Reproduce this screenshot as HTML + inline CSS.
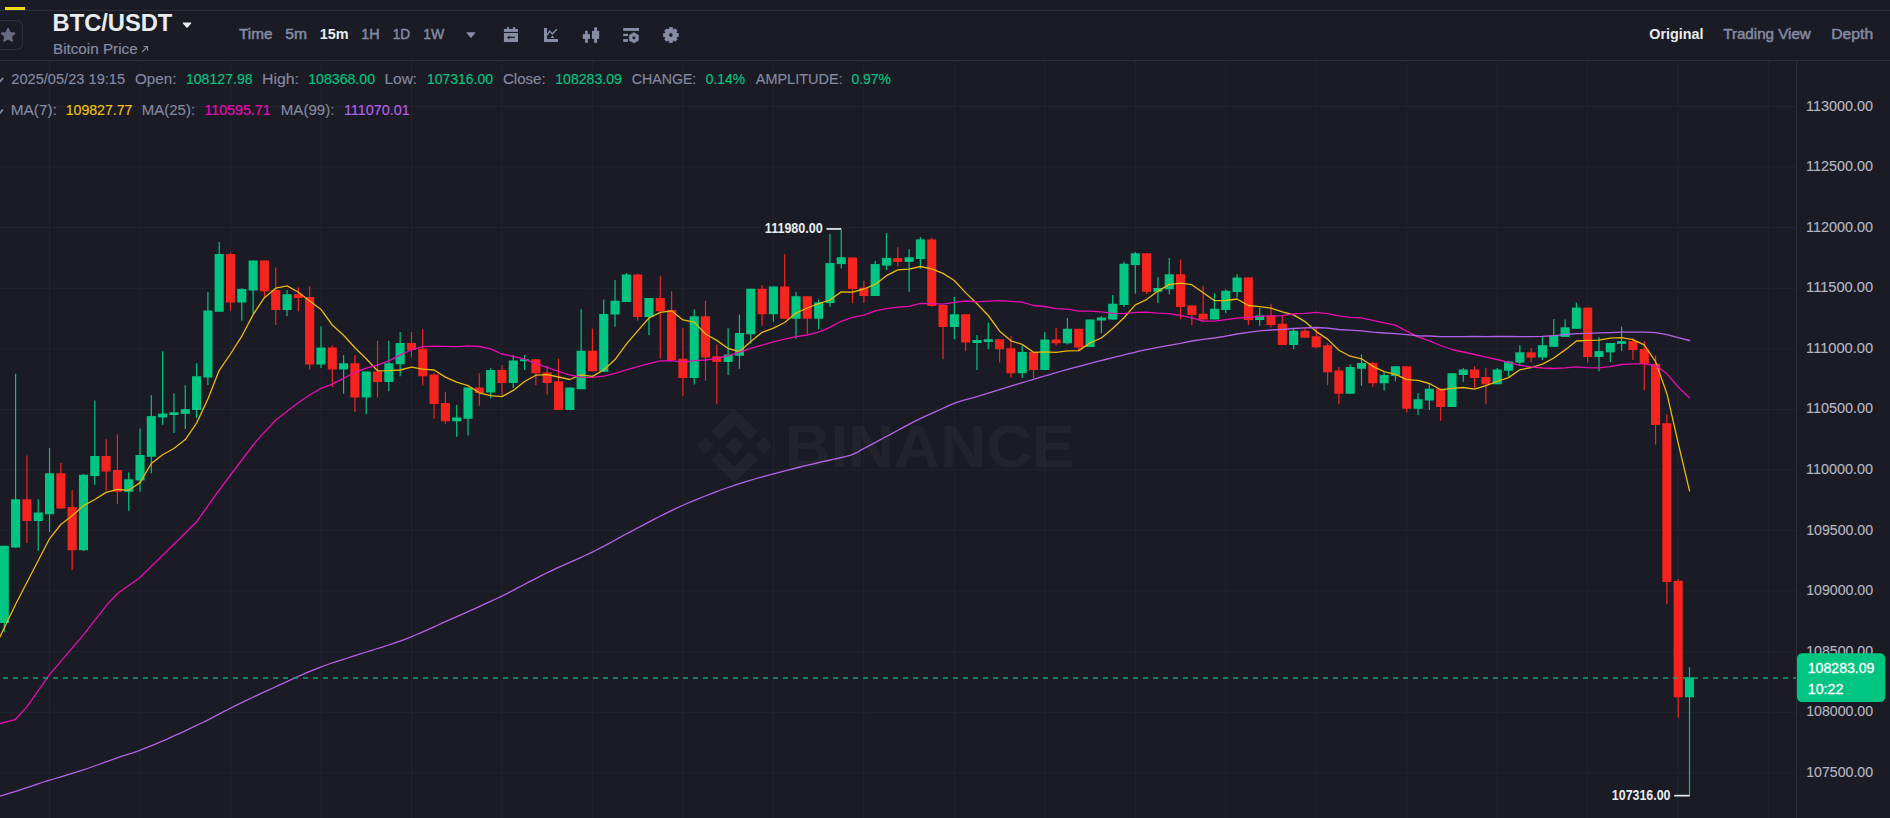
<!DOCTYPE html>
<html lang="en"><head><meta charset="utf-8"><title>BTC/USDT | Bitcoin Price</title>
<style>html,body{margin:0;padding:0;background:#1a1b24;overflow:hidden}body{width:1890px;height:818px;font-family:"Liberation Sans",Arial,sans-serif}</style>
</head><body>
<svg width="1890" height="818" viewBox="0 0 1890 818" font-family="Liberation Sans, Arial, sans-serif" style="display:block">
<rect width="1890" height="818" fill="#1a1b24"/>
<g id="grid" fill="#22242f">
<rect x="0" y="106.00" width="1796" height="1"/>
<rect x="0" y="166.57" width="1796" height="1"/>
<rect x="0" y="227.15" width="1796" height="1"/>
<rect x="0" y="287.73" width="1796" height="1"/>
<rect x="0" y="348.30" width="1796" height="1"/>
<rect x="0" y="408.88" width="1796" height="1"/>
<rect x="0" y="469.45" width="1796" height="1"/>
<rect x="0" y="530.03" width="1796" height="1"/>
<rect x="0" y="590.60" width="1796" height="1"/>
<rect x="0" y="651.18" width="1796" height="1"/>
<rect x="0" y="711.75" width="1796" height="1"/>
<rect x="0" y="772.33" width="1796" height="1"/>
<rect x="49.00" y="61" width="1" height="757"/>
<rect x="139.48" y="61" width="1" height="757"/>
<rect x="229.96" y="61" width="1" height="757"/>
<rect x="320.44" y="61" width="1" height="757"/>
<rect x="410.92" y="61" width="1" height="757"/>
<rect x="501.40" y="61" width="1" height="757"/>
<rect x="591.88" y="61" width="1" height="757"/>
<rect x="682.36" y="61" width="1" height="757"/>
<rect x="772.84" y="61" width="1" height="757"/>
<rect x="863.32" y="61" width="1" height="757"/>
<rect x="953.80" y="61" width="1" height="757"/>
<rect x="1044.28" y="61" width="1" height="757"/>
<rect x="1134.76" y="61" width="1" height="757"/>
<rect x="1225.24" y="61" width="1" height="757"/>
<rect x="1315.72" y="61" width="1" height="757"/>
<rect x="1406.20" y="61" width="1" height="757"/>
<rect x="1496.68" y="61" width="1" height="757"/>
<rect x="1587.16" y="61" width="1" height="757"/>
<rect x="1677.64" y="61" width="1" height="757"/>
<rect x="1768.12" y="61" width="1" height="757"/>
</g>
<rect x="1796" y="61" width="1" height="757" fill="#2b2e3a" shape-rendering="crispEdges"/>
<g id="watermark" fill="#ffffff" opacity="0.036">
<polygon points="734.50,436.86 743.44,445.80 734.50,454.74 725.56,445.80"/><polygon points="705.45,437.61 713.64,445.80 705.45,454.00 697.25,445.80"/><polygon points="763.55,437.61 771.75,445.80 763.55,454.00 755.36,445.80"/><polygon points="734.50,408.55 757.60,431.65 749.40,439.84 734.50,424.94 719.60,439.84 711.40,431.65"/><polygon points="734.50,483.05 757.60,459.95 749.40,451.76 734.50,466.66 719.60,451.76 711.40,459.95"/>
<text x="784.77" y="467.2" fill="#ffffff" font-size="60" font-weight="700" textLength="289.71" lengthAdjust="spacingAndGlyphs" >BINANCE</text>
</g>
<g id="candles">
<rect x="3.70" y="545.75" width="1.2" height="86.05" fill="#00c582"/>
<rect x="-0.25" y="545.75" width="9.1" height="77.25" fill="#00c582"/>
<rect x="15.01" y="373.75" width="1.2" height="174.25" fill="#00c582"/>
<rect x="11.06" y="499.25" width="9.1" height="48.25" fill="#00c582"/>
<rect x="26.32" y="455.50" width="1.2" height="87.50" fill="#f6241f"/>
<rect x="22.37" y="499.25" width="9.1" height="21.75" fill="#f6241f"/>
<rect x="37.63" y="499.25" width="1.2" height="51.50" fill="#00c582"/>
<rect x="33.68" y="512.50" width="9.1" height="8.50" fill="#00c582"/>
<rect x="48.94" y="448.00" width="1.2" height="84.00" fill="#00c582"/>
<rect x="44.99" y="473.25" width="9.1" height="41.00" fill="#00c582"/>
<rect x="60.25" y="463.00" width="1.2" height="45.50" fill="#f6241f"/>
<rect x="56.30" y="473.25" width="9.1" height="35.25" fill="#f6241f"/>
<rect x="71.56" y="490.00" width="1.2" height="80.00" fill="#f6241f"/>
<rect x="67.61" y="507.00" width="9.1" height="43.25" fill="#f6241f"/>
<rect x="82.87" y="474.00" width="1.2" height="77.00" fill="#00c582"/>
<rect x="78.92" y="474.75" width="9.1" height="75.50" fill="#00c582"/>
<rect x="94.18" y="400.50" width="1.2" height="84.50" fill="#00c582"/>
<rect x="90.23" y="456.00" width="9.1" height="20.00" fill="#00c582"/>
<rect x="105.49" y="439.25" width="1.2" height="51.25" fill="#f6241f"/>
<rect x="101.54" y="456.00" width="9.1" height="15.50" fill="#f6241f"/>
<rect x="116.80" y="434.50" width="1.2" height="69.75" fill="#f6241f"/>
<rect x="112.85" y="470.00" width="9.1" height="21.75" fill="#f6241f"/>
<rect x="128.11" y="472.50" width="1.2" height="38.25" fill="#00c582"/>
<rect x="124.16" y="479.25" width="9.1" height="12.50" fill="#00c582"/>
<rect x="139.42" y="428.60" width="1.2" height="63.15" fill="#00c582"/>
<rect x="135.47" y="455.00" width="9.1" height="25.50" fill="#00c582"/>
<rect x="150.73" y="395.00" width="1.2" height="78.25" fill="#00c582"/>
<rect x="146.78" y="416.10" width="9.1" height="40.65" fill="#00c582"/>
<rect x="162.04" y="351.25" width="1.2" height="73.65" fill="#00c582"/>
<rect x="158.09" y="413.60" width="9.1" height="3.80" fill="#00c582"/>
<rect x="173.35" y="393.25" width="1.2" height="39.75" fill="#00c582"/>
<rect x="169.40" y="412.25" width="9.1" height="2.75" fill="#00c582"/>
<rect x="184.66" y="385.25" width="1.2" height="43.75" fill="#00c582"/>
<rect x="180.71" y="409.10" width="9.1" height="4.80" fill="#00c582"/>
<rect x="195.97" y="363.25" width="1.2" height="54.85" fill="#00c582"/>
<rect x="192.02" y="376.25" width="9.1" height="33.75" fill="#00c582"/>
<rect x="207.28" y="292.00" width="1.2" height="93.00" fill="#00c582"/>
<rect x="203.33" y="310.50" width="9.1" height="67.00" fill="#00c582"/>
<rect x="218.59" y="242.00" width="1.2" height="69.75" fill="#00c582"/>
<rect x="214.64" y="254.00" width="9.1" height="57.75" fill="#00c582"/>
<rect x="229.90" y="252.50" width="1.2" height="58.25" fill="#f6241f"/>
<rect x="225.95" y="254.00" width="9.1" height="48.50" fill="#f6241f"/>
<rect x="241.21" y="288.00" width="1.2" height="32.75" fill="#00c582"/>
<rect x="237.26" y="289.00" width="9.1" height="13.50" fill="#00c582"/>
<rect x="252.52" y="260.50" width="1.2" height="53.25" fill="#00c582"/>
<rect x="248.57" y="260.50" width="9.1" height="30.00" fill="#00c582"/>
<rect x="263.83" y="260.50" width="1.2" height="36.50" fill="#f6241f"/>
<rect x="259.88" y="260.50" width="9.1" height="30.75" fill="#f6241f"/>
<rect x="275.14" y="267.50" width="1.2" height="57.50" fill="#f6241f"/>
<rect x="271.19" y="290.00" width="9.1" height="20.00" fill="#f6241f"/>
<rect x="286.45" y="290.00" width="1.2" height="26.25" fill="#00c582"/>
<rect x="282.50" y="294.25" width="9.1" height="15.75" fill="#00c582"/>
<rect x="297.76" y="287.50" width="1.2" height="23.75" fill="#f6241f"/>
<rect x="293.81" y="294.25" width="9.1" height="3.75" fill="#f6241f"/>
<rect x="309.07" y="286.25" width="1.2" height="83.25" fill="#f6241f"/>
<rect x="305.12" y="297.00" width="9.1" height="67.50" fill="#f6241f"/>
<rect x="320.38" y="326.25" width="1.2" height="41.75" fill="#00c582"/>
<rect x="316.43" y="347.50" width="9.1" height="17.00" fill="#00c582"/>
<rect x="331.69" y="345.50" width="1.2" height="41.50" fill="#f6241f"/>
<rect x="327.74" y="347.50" width="9.1" height="22.00" fill="#f6241f"/>
<rect x="343.00" y="355.00" width="1.2" height="38.75" fill="#00c582"/>
<rect x="339.05" y="363.25" width="9.1" height="6.25" fill="#00c582"/>
<rect x="354.31" y="355.00" width="1.2" height="57.00" fill="#f6241f"/>
<rect x="350.36" y="363.25" width="9.1" height="34.25" fill="#f6241f"/>
<rect x="365.62" y="371.50" width="1.2" height="42.75" fill="#00c582"/>
<rect x="361.67" y="371.50" width="9.1" height="26.00" fill="#00c582"/>
<rect x="376.93" y="340.75" width="1.2" height="56.75" fill="#f6241f"/>
<rect x="372.98" y="371.50" width="9.1" height="10.50" fill="#f6241f"/>
<rect x="388.24" y="340.75" width="1.2" height="50.50" fill="#00c582"/>
<rect x="384.29" y="363.25" width="9.1" height="18.75" fill="#00c582"/>
<rect x="399.55" y="332.00" width="1.2" height="44.25" fill="#00c582"/>
<rect x="395.60" y="343.00" width="9.1" height="21.25" fill="#00c582"/>
<rect x="410.86" y="332.00" width="1.2" height="25.50" fill="#f6241f"/>
<rect x="406.91" y="343.00" width="9.1" height="7.00" fill="#f6241f"/>
<rect x="422.17" y="329.25" width="1.2" height="56.25" fill="#f6241f"/>
<rect x="418.22" y="348.75" width="9.1" height="27.50" fill="#f6241f"/>
<rect x="433.48" y="373.00" width="1.2" height="45.60" fill="#f6241f"/>
<rect x="429.53" y="374.50" width="9.1" height="29.50" fill="#f6241f"/>
<rect x="444.79" y="391.75" width="1.2" height="32.25" fill="#f6241f"/>
<rect x="440.84" y="403.00" width="9.1" height="18.25" fill="#f6241f"/>
<rect x="456.10" y="405.00" width="1.2" height="31.90" fill="#00c582"/>
<rect x="452.15" y="417.40" width="9.1" height="3.85" fill="#00c582"/>
<rect x="467.41" y="387.50" width="1.2" height="48.00" fill="#00c582"/>
<rect x="463.46" y="387.50" width="9.1" height="31.25" fill="#00c582"/>
<rect x="478.72" y="373.25" width="1.2" height="32.50" fill="#f6241f"/>
<rect x="474.77" y="387.50" width="9.1" height="5.50" fill="#f6241f"/>
<rect x="490.03" y="368.25" width="1.2" height="30.00" fill="#00c582"/>
<rect x="486.08" y="370.00" width="9.1" height="22.50" fill="#00c582"/>
<rect x="501.34" y="365.00" width="1.2" height="31.25" fill="#f6241f"/>
<rect x="497.39" y="370.00" width="9.1" height="13.00" fill="#f6241f"/>
<rect x="512.65" y="355.00" width="1.2" height="33.00" fill="#00c582"/>
<rect x="508.70" y="360.50" width="9.1" height="22.50" fill="#00c582"/>
<rect x="523.96" y="355.00" width="1.2" height="15.00" fill="#00c582"/>
<rect x="520.01" y="359.25" width="9.1" height="2.00" fill="#00c582"/>
<rect x="535.27" y="359.25" width="1.2" height="25.75" fill="#f6241f"/>
<rect x="531.32" y="359.25" width="9.1" height="14.00" fill="#f6241f"/>
<rect x="546.58" y="365.75" width="1.2" height="28.75" fill="#f6241f"/>
<rect x="542.63" y="372.50" width="9.1" height="10.50" fill="#f6241f"/>
<rect x="557.89" y="358.75" width="1.2" height="51.25" fill="#f6241f"/>
<rect x="553.94" y="381.25" width="9.1" height="28.75" fill="#f6241f"/>
<rect x="569.20" y="387.50" width="1.2" height="22.50" fill="#00c582"/>
<rect x="565.25" y="387.50" width="9.1" height="22.50" fill="#00c582"/>
<rect x="580.51" y="309.25" width="1.2" height="80.00" fill="#00c582"/>
<rect x="576.56" y="350.75" width="9.1" height="38.50" fill="#00c582"/>
<rect x="591.82" y="328.75" width="1.2" height="42.50" fill="#f6241f"/>
<rect x="587.87" y="350.75" width="9.1" height="20.50" fill="#f6241f"/>
<rect x="603.13" y="299.50" width="1.2" height="72.25" fill="#00c582"/>
<rect x="599.18" y="314.00" width="9.1" height="57.75" fill="#00c582"/>
<rect x="614.44" y="280.00" width="1.2" height="46.75" fill="#00c582"/>
<rect x="610.49" y="300.75" width="9.1" height="13.75" fill="#00c582"/>
<rect x="625.75" y="273.00" width="1.2" height="29.00" fill="#00c582"/>
<rect x="621.80" y="274.50" width="9.1" height="27.50" fill="#00c582"/>
<rect x="637.06" y="273.50" width="1.2" height="47.25" fill="#f6241f"/>
<rect x="633.11" y="274.50" width="9.1" height="42.50" fill="#f6241f"/>
<rect x="648.37" y="298.00" width="1.2" height="37.00" fill="#00c582"/>
<rect x="644.42" y="298.00" width="9.1" height="19.00" fill="#00c582"/>
<rect x="659.68" y="276.25" width="1.2" height="82.50" fill="#f6241f"/>
<rect x="655.73" y="298.00" width="9.1" height="13.25" fill="#f6241f"/>
<rect x="670.99" y="291.25" width="1.2" height="68.75" fill="#f6241f"/>
<rect x="667.04" y="310.00" width="9.1" height="50.00" fill="#f6241f"/>
<rect x="682.30" y="328.00" width="1.2" height="67.75" fill="#f6241f"/>
<rect x="678.35" y="358.75" width="9.1" height="19.25" fill="#f6241f"/>
<rect x="693.61" y="309.50" width="1.2" height="75.00" fill="#00c582"/>
<rect x="689.66" y="316.25" width="9.1" height="61.75" fill="#00c582"/>
<rect x="704.92" y="300.75" width="1.2" height="80.00" fill="#f6241f"/>
<rect x="700.97" y="316.25" width="9.1" height="41.25" fill="#f6241f"/>
<rect x="716.23" y="344.50" width="1.2" height="59.25" fill="#f6241f"/>
<rect x="712.28" y="356.25" width="9.1" height="5.75" fill="#f6241f"/>
<rect x="727.54" y="328.25" width="1.2" height="46.75" fill="#00c582"/>
<rect x="723.59" y="354.50" width="9.1" height="7.50" fill="#00c582"/>
<rect x="738.85" y="314.50" width="1.2" height="54.25" fill="#00c582"/>
<rect x="734.90" y="333.00" width="9.1" height="22.75" fill="#00c582"/>
<rect x="750.16" y="288.75" width="1.2" height="55.00" fill="#00c582"/>
<rect x="746.21" y="288.75" width="9.1" height="45.50" fill="#00c582"/>
<rect x="761.47" y="285.00" width="1.2" height="40.75" fill="#f6241f"/>
<rect x="757.52" y="288.75" width="9.1" height="25.50" fill="#f6241f"/>
<rect x="772.78" y="286.50" width="1.2" height="35.25" fill="#00c582"/>
<rect x="768.83" y="286.50" width="9.1" height="27.75" fill="#00c582"/>
<rect x="784.09" y="254.10" width="1.2" height="64.65" fill="#f6241f"/>
<rect x="780.14" y="286.50" width="9.1" height="32.25" fill="#f6241f"/>
<rect x="795.40" y="292.00" width="1.2" height="46.75" fill="#00c582"/>
<rect x="791.45" y="296.25" width="9.1" height="22.50" fill="#00c582"/>
<rect x="806.71" y="296.25" width="1.2" height="37.50" fill="#f6241f"/>
<rect x="802.76" y="296.25" width="9.1" height="22.50" fill="#f6241f"/>
<rect x="818.02" y="299.50" width="1.2" height="29.75" fill="#00c582"/>
<rect x="814.07" y="302.40" width="9.1" height="16.35" fill="#00c582"/>
<rect x="829.33" y="234.00" width="1.2" height="72.90" fill="#00c582"/>
<rect x="825.38" y="263.10" width="9.1" height="40.00" fill="#00c582"/>
<rect x="840.64" y="229.75" width="1.2" height="38.75" fill="#00c582"/>
<rect x="836.69" y="257.25" width="9.1" height="6.85" fill="#00c582"/>
<rect x="851.95" y="257.50" width="1.2" height="45.60" fill="#f6241f"/>
<rect x="848.00" y="257.50" width="9.1" height="31.50" fill="#f6241f"/>
<rect x="863.26" y="280.60" width="1.2" height="22.40" fill="#f6241f"/>
<rect x="859.31" y="287.75" width="9.1" height="8.25" fill="#f6241f"/>
<rect x="874.57" y="261.00" width="1.2" height="35.00" fill="#00c582"/>
<rect x="870.62" y="264.10" width="9.1" height="31.90" fill="#00c582"/>
<rect x="885.88" y="233.10" width="1.2" height="36.90" fill="#00c582"/>
<rect x="881.93" y="257.90" width="9.1" height="7.70" fill="#00c582"/>
<rect x="897.19" y="247.25" width="1.2" height="19.35" fill="#f6241f"/>
<rect x="893.24" y="258.10" width="9.1" height="3.80" fill="#f6241f"/>
<rect x="908.50" y="249.10" width="1.2" height="42.80" fill="#00c582"/>
<rect x="904.55" y="257.25" width="9.1" height="4.65" fill="#00c582"/>
<rect x="919.81" y="237.10" width="1.2" height="31.65" fill="#00c582"/>
<rect x="915.86" y="239.40" width="9.1" height="19.60" fill="#00c582"/>
<rect x="931.12" y="237.75" width="1.2" height="69.15" fill="#f6241f"/>
<rect x="927.17" y="239.40" width="9.1" height="66.60" fill="#f6241f"/>
<rect x="942.43" y="305.00" width="1.2" height="54.25" fill="#f6241f"/>
<rect x="938.48" y="305.00" width="9.1" height="22.00" fill="#f6241f"/>
<rect x="953.74" y="296.75" width="1.2" height="42.50" fill="#00c582"/>
<rect x="949.79" y="314.25" width="9.1" height="12.75" fill="#00c582"/>
<rect x="965.05" y="314.25" width="1.2" height="37.00" fill="#f6241f"/>
<rect x="961.10" y="314.25" width="9.1" height="28.25" fill="#f6241f"/>
<rect x="976.36" y="335.00" width="1.2" height="35.00" fill="#00c582"/>
<rect x="972.41" y="340.00" width="9.1" height="3.00" fill="#00c582"/>
<rect x="987.67" y="322.50" width="1.2" height="26.75" fill="#00c582"/>
<rect x="983.72" y="339.25" width="9.1" height="2.75" fill="#00c582"/>
<rect x="998.98" y="339.25" width="1.2" height="23.25" fill="#f6241f"/>
<rect x="995.03" y="339.25" width="9.1" height="10.00" fill="#f6241f"/>
<rect x="1010.29" y="336.25" width="1.2" height="41.25" fill="#f6241f"/>
<rect x="1006.34" y="348.25" width="9.1" height="25.00" fill="#f6241f"/>
<rect x="1021.60" y="345.50" width="1.2" height="32.50" fill="#00c582"/>
<rect x="1017.65" y="352.00" width="9.1" height="21.25" fill="#00c582"/>
<rect x="1032.91" y="352.00" width="1.2" height="26.00" fill="#f6241f"/>
<rect x="1028.96" y="352.00" width="9.1" height="18.00" fill="#f6241f"/>
<rect x="1044.22" y="332.00" width="1.2" height="38.00" fill="#00c582"/>
<rect x="1040.27" y="339.50" width="9.1" height="30.50" fill="#00c582"/>
<rect x="1055.53" y="328.00" width="1.2" height="17.75" fill="#f6241f"/>
<rect x="1051.58" y="339.50" width="9.1" height="3.75" fill="#f6241f"/>
<rect x="1066.84" y="318.00" width="1.2" height="26.50" fill="#00c582"/>
<rect x="1062.89" y="328.75" width="9.1" height="14.50" fill="#00c582"/>
<rect x="1078.15" y="328.75" width="1.2" height="22.50" fill="#f6241f"/>
<rect x="1074.20" y="328.75" width="9.1" height="18.75" fill="#f6241f"/>
<rect x="1089.46" y="319.50" width="1.2" height="27.50" fill="#00c582"/>
<rect x="1085.51" y="319.50" width="9.1" height="27.50" fill="#00c582"/>
<rect x="1100.77" y="316.25" width="1.2" height="17.00" fill="#00c582"/>
<rect x="1096.82" y="317.50" width="9.1" height="3.00" fill="#00c582"/>
<rect x="1112.08" y="295.00" width="1.2" height="24.50" fill="#00c582"/>
<rect x="1108.13" y="303.75" width="9.1" height="15.75" fill="#00c582"/>
<rect x="1123.39" y="261.75" width="1.2" height="45.25" fill="#00c582"/>
<rect x="1119.44" y="263.75" width="9.1" height="41.25" fill="#00c582"/>
<rect x="1134.70" y="252.00" width="1.2" height="41.75" fill="#00c582"/>
<rect x="1130.75" y="253.25" width="9.1" height="11.75" fill="#00c582"/>
<rect x="1146.01" y="253.25" width="1.2" height="40.50" fill="#f6241f"/>
<rect x="1142.06" y="253.25" width="9.1" height="38.50" fill="#f6241f"/>
<rect x="1157.32" y="277.00" width="1.2" height="26.00" fill="#00c582"/>
<rect x="1153.37" y="288.00" width="9.1" height="3.75" fill="#00c582"/>
<rect x="1168.63" y="258.00" width="1.2" height="36.25" fill="#00c582"/>
<rect x="1164.68" y="274.25" width="9.1" height="15.00" fill="#00c582"/>
<rect x="1179.94" y="259.50" width="1.2" height="59.75" fill="#f6241f"/>
<rect x="1175.99" y="274.25" width="9.1" height="32.75" fill="#f6241f"/>
<rect x="1191.25" y="305.50" width="1.2" height="19.50" fill="#f6241f"/>
<rect x="1187.30" y="305.50" width="9.1" height="9.50" fill="#f6241f"/>
<rect x="1202.56" y="285.75" width="1.2" height="33.75" fill="#f6241f"/>
<rect x="1198.61" y="313.75" width="9.1" height="5.75" fill="#f6241f"/>
<rect x="1213.87" y="293.25" width="1.2" height="26.25" fill="#00c582"/>
<rect x="1209.92" y="308.75" width="9.1" height="10.75" fill="#00c582"/>
<rect x="1225.18" y="289.50" width="1.2" height="23.50" fill="#00c582"/>
<rect x="1221.23" y="290.75" width="9.1" height="19.25" fill="#00c582"/>
<rect x="1236.49" y="274.25" width="1.2" height="23.25" fill="#00c582"/>
<rect x="1232.54" y="277.50" width="9.1" height="14.50" fill="#00c582"/>
<rect x="1247.80" y="277.50" width="1.2" height="47.50" fill="#f6241f"/>
<rect x="1243.85" y="277.50" width="9.1" height="42.50" fill="#f6241f"/>
<rect x="1259.11" y="307.50" width="1.2" height="18.25" fill="#00c582"/>
<rect x="1255.16" y="315.50" width="9.1" height="4.50" fill="#00c582"/>
<rect x="1270.42" y="303.75" width="1.2" height="23.75" fill="#f6241f"/>
<rect x="1266.47" y="315.50" width="9.1" height="9.50" fill="#f6241f"/>
<rect x="1281.73" y="315.00" width="1.2" height="30.00" fill="#f6241f"/>
<rect x="1277.78" y="323.75" width="9.1" height="21.25" fill="#f6241f"/>
<rect x="1293.04" y="328.75" width="1.2" height="20.50" fill="#00c582"/>
<rect x="1289.09" y="330.75" width="9.1" height="14.25" fill="#00c582"/>
<rect x="1304.35" y="328.00" width="1.2" height="9.75" fill="#f6241f"/>
<rect x="1300.40" y="330.75" width="9.1" height="7.00" fill="#f6241f"/>
<rect x="1315.66" y="328.00" width="1.2" height="20.25" fill="#f6241f"/>
<rect x="1311.71" y="336.25" width="9.1" height="11.00" fill="#f6241f"/>
<rect x="1326.97" y="343.25" width="1.2" height="41.75" fill="#f6241f"/>
<rect x="1323.02" y="345.25" width="9.1" height="27.00" fill="#f6241f"/>
<rect x="1338.28" y="367.00" width="1.2" height="37.25" fill="#f6241f"/>
<rect x="1334.33" y="370.50" width="9.1" height="23.25" fill="#f6241f"/>
<rect x="1349.59" y="364.50" width="1.2" height="29.25" fill="#00c582"/>
<rect x="1345.64" y="367.00" width="9.1" height="26.75" fill="#00c582"/>
<rect x="1360.90" y="354.50" width="1.2" height="31.25" fill="#00c582"/>
<rect x="1356.95" y="363.00" width="9.1" height="5.75" fill="#00c582"/>
<rect x="1372.21" y="361.75" width="1.2" height="25.25" fill="#f6241f"/>
<rect x="1368.26" y="363.00" width="9.1" height="20.25" fill="#f6241f"/>
<rect x="1383.52" y="372.50" width="1.2" height="18.00" fill="#00c582"/>
<rect x="1379.57" y="375.00" width="9.1" height="8.25" fill="#00c582"/>
<rect x="1394.83" y="366.25" width="1.2" height="15.00" fill="#00c582"/>
<rect x="1390.88" y="366.25" width="9.1" height="9.50" fill="#00c582"/>
<rect x="1406.14" y="366.25" width="1.2" height="46.25" fill="#f6241f"/>
<rect x="1402.19" y="366.25" width="9.1" height="42.50" fill="#f6241f"/>
<rect x="1417.45" y="393.00" width="1.2" height="22.00" fill="#00c582"/>
<rect x="1413.50" y="399.25" width="9.1" height="9.50" fill="#00c582"/>
<rect x="1428.76" y="384.25" width="1.2" height="25.75" fill="#00c582"/>
<rect x="1424.81" y="388.75" width="9.1" height="11.75" fill="#00c582"/>
<rect x="1440.07" y="388.75" width="1.2" height="32.00" fill="#f6241f"/>
<rect x="1436.12" y="388.75" width="9.1" height="18.25" fill="#f6241f"/>
<rect x="1451.38" y="373.25" width="1.2" height="33.75" fill="#00c582"/>
<rect x="1447.43" y="373.25" width="9.1" height="33.75" fill="#00c582"/>
<rect x="1462.69" y="368.00" width="1.2" height="13.75" fill="#00c582"/>
<rect x="1458.74" y="369.50" width="9.1" height="5.50" fill="#00c582"/>
<rect x="1474.00" y="366.25" width="1.2" height="22.00" fill="#f6241f"/>
<rect x="1470.05" y="369.50" width="9.1" height="8.50" fill="#f6241f"/>
<rect x="1485.31" y="368.25" width="1.2" height="36.00" fill="#f6241f"/>
<rect x="1481.36" y="377.00" width="9.1" height="7.25" fill="#f6241f"/>
<rect x="1496.62" y="368.00" width="1.2" height="16.25" fill="#00c582"/>
<rect x="1492.67" y="369.50" width="9.1" height="14.75" fill="#00c582"/>
<rect x="1507.93" y="360.75" width="1.2" height="15.75" fill="#00c582"/>
<rect x="1503.98" y="361.50" width="9.1" height="9.20" fill="#00c582"/>
<rect x="1519.24" y="345.20" width="1.2" height="19.70" fill="#00c582"/>
<rect x="1515.29" y="352.30" width="9.1" height="10.30" fill="#00c582"/>
<rect x="1530.55" y="348.20" width="1.2" height="14.00" fill="#f6241f"/>
<rect x="1526.60" y="352.30" width="9.1" height="5.30" fill="#f6241f"/>
<rect x="1541.86" y="337.00" width="1.2" height="23.00" fill="#00c582"/>
<rect x="1537.91" y="345.20" width="9.1" height="12.30" fill="#00c582"/>
<rect x="1553.17" y="319.10" width="1.2" height="27.70" fill="#00c582"/>
<rect x="1549.22" y="335.80" width="9.1" height="11.00" fill="#00c582"/>
<rect x="1564.48" y="319.40" width="1.2" height="17.60" fill="#00c582"/>
<rect x="1560.53" y="327.30" width="9.1" height="9.70" fill="#00c582"/>
<rect x="1575.79" y="302.50" width="1.2" height="26.25" fill="#00c582"/>
<rect x="1571.84" y="307.60" width="9.1" height="21.15" fill="#00c582"/>
<rect x="1587.10" y="307.60" width="1.2" height="54.90" fill="#f6241f"/>
<rect x="1583.15" y="307.60" width="9.1" height="49.40" fill="#f6241f"/>
<rect x="1598.41" y="337.00" width="1.2" height="34.25" fill="#00c582"/>
<rect x="1594.46" y="351.10" width="9.1" height="5.90" fill="#00c582"/>
<rect x="1609.72" y="343.00" width="1.2" height="19.00" fill="#00c582"/>
<rect x="1605.77" y="343.00" width="9.1" height="9.30" fill="#00c582"/>
<rect x="1621.03" y="326.60" width="1.2" height="24.40" fill="#00c582"/>
<rect x="1617.08" y="341.10" width="9.1" height="2.80" fill="#00c582"/>
<rect x="1632.34" y="338.00" width="1.2" height="22.00" fill="#f6241f"/>
<rect x="1628.39" y="341.10" width="9.1" height="9.00" fill="#f6241f"/>
<rect x="1643.65" y="341.25" width="1.2" height="48.75" fill="#f6241f"/>
<rect x="1639.70" y="349.00" width="9.1" height="14.75" fill="#f6241f"/>
<rect x="1654.96" y="355.25" width="1.2" height="89.25" fill="#f6241f"/>
<rect x="1651.01" y="363.90" width="9.1" height="61.10" fill="#f6241f"/>
<rect x="1666.27" y="414.25" width="1.2" height="189.95" fill="#f6241f"/>
<rect x="1662.32" y="423.25" width="9.1" height="158.75" fill="#f6241f"/>
<rect x="1677.58" y="579.00" width="1.2" height="138.80" fill="#f6241f"/>
<rect x="1673.63" y="580.80" width="9.1" height="116.50" fill="#f6241f"/>
<rect x="1688.89" y="667.30" width="1.2" height="127.70" fill="#00c582"/>
<rect x="1684.94" y="677.40" width="9.1" height="19.90" fill="#00c582"/>
</g>
<g id="ma">
<polyline points="-3.0,643.0 0.0,636.8 15.5,604.5 49.5,538.8 60.8,524.5 72.2,515.8 83.5,505.6 94.8,499.5 106.1,492.4 117.4,489.4 128.7,490.3 140.0,482.6 151.3,463.5 162.6,454.7 173.9,448.5 185.3,439.6 196.6,423.1 207.9,399.0 219.2,370.3 230.5,354.0 241.8,336.2 253.1,314.6 264.4,297.7 275.7,288.2 287.1,285.9 298.4,292.2 309.7,301.1 321.0,309.4 332.3,325.0 343.6,335.3 354.9,347.8 366.2,358.8 377.5,370.8 388.8,370.6 400.1,370.0 411.5,367.2 422.8,369.1 434.1,370.0 445.4,377.1 456.7,382.2 468.0,385.6 479.3,392.8 490.6,395.6 501.9,396.6 513.2,390.4 524.6,381.5 535.9,375.2 547.2,374.6 558.5,377.0 569.8,379.5 581.1,374.9 592.4,376.4 603.7,370.0 615.0,359.6 626.4,344.1 637.7,330.8 649.0,318.0 660.3,312.4 671.6,310.8 682.9,319.9 694.2,322.1 705.5,334.0 716.8,340.4 728.1,348.5 739.5,351.6 750.8,341.4 762.1,332.3 773.4,328.1 784.7,322.5 796.0,313.1 807.3,308.0 818.6,303.7 829.9,300.0 841.2,291.9 852.6,292.2 863.9,289.0 875.2,284.4 886.5,275.7 897.8,269.9 909.1,269.1 920.4,266.5 931.7,268.9 943.0,273.4 954.3,280.5 965.6,292.6 977.0,303.8 988.3,315.5 999.6,331.2 1010.9,340.8 1022.2,344.4 1033.5,352.3 1044.8,351.9 1056.1,352.4 1067.4,350.9 1078.8,350.6 1090.1,342.9 1101.4,338.0 1112.7,328.5 1124.0,317.7 1135.3,304.9 1146.6,299.6 1157.9,291.1 1169.2,284.6 1180.5,283.1 1191.8,284.7 1203.2,292.7 1214.5,300.6 1225.8,300.5 1237.1,299.0 1248.4,305.5 1259.7,306.7 1271.0,308.1 1282.3,311.8 1293.6,314.9 1305.0,321.6 1316.3,331.6 1327.6,339.1 1338.9,350.2 1350.2,356.2 1361.5,358.8 1372.8,366.3 1384.1,371.6 1395.4,374.4 1406.7,379.6 1418.0,380.4 1429.4,383.5 1440.7,389.8 1452.0,388.3 1463.3,387.5 1474.6,389.2 1485.9,385.7 1497.2,381.5 1508.5,377.6 1519.8,369.8 1531.2,367.5 1542.5,364.1 1553.8,358.0 1565.1,349.9 1576.4,341.0 1587.7,340.4 1599.0,340.2 1610.3,338.1 1621.6,337.6 1632.9,339.6 1644.2,344.8 1655.6,361.6 1666.9,393.7 1678.2,443.2 1689.5,490.9" fill="none" stroke="#ecb90a" stroke-width="1.3" stroke-linejoin="round" stroke-linecap="round"/>
<polyline points="-3.0,724.0 0.0,723.5 15.1,719.7 27.0,706.6 49.5,674.6 83.0,635.3 107.5,604.2 117.2,593.8 140.0,577.5 162.5,555.5 196.5,521.8 219.2,490.0 253.2,445.0 262.5,434.2 275.8,420.0 298.5,402.5 309.7,395.0 321.0,388.4 332.3,384.2 343.6,378.4 354.9,372.3 366.2,368.2 377.5,365.2 388.8,360.9 400.1,354.9 411.5,349.8 422.8,346.6 434.1,346.1 445.4,346.4 456.7,346.6 468.0,345.8 479.3,346.5 490.6,348.8 501.9,354.0 513.2,356.3 524.6,359.1 535.9,363.6 547.2,367.3 558.5,371.3 569.8,375.0 581.1,377.1 592.4,377.4 603.7,376.1 615.0,373.3 626.4,369.8 637.7,366.6 649.0,363.6 660.3,360.8 671.6,360.7 682.9,362.1 694.2,360.7 705.5,360.0 716.8,358.3 728.1,355.6 739.5,352.2 750.8,348.3 762.1,345.1 773.4,341.8 784.7,339.2 796.0,336.6 807.3,335.0 818.6,332.2 829.9,327.4 841.2,321.3 852.6,317.4 863.9,315.2 875.2,310.9 886.5,308.6 897.8,307.1 909.1,306.4 920.4,303.3 931.7,303.6 943.0,304.2 954.3,302.4 965.6,301.0 977.0,301.9 988.3,301.2 999.6,300.7 1010.9,301.4 1022.2,302.2 1033.5,305.5 1044.8,306.5 1056.1,308.7 1067.4,309.1 1078.8,311.2 1090.1,311.2 1101.4,311.8 1112.7,313.4 1124.0,313.7 1135.3,312.3 1146.6,312.1 1157.9,313.1 1169.2,313.7 1180.5,315.5 1191.8,317.8 1203.2,321.0 1214.5,321.1 1225.8,319.7 1237.1,318.2 1248.4,317.3 1259.7,316.3 1271.0,315.8 1282.3,315.6 1293.6,313.9 1305.0,313.3 1316.3,312.4 1327.6,313.7 1338.9,315.8 1350.2,317.3 1361.5,317.9 1372.8,320.4 1384.1,322.8 1395.4,325.2 1406.7,331.1 1418.0,336.9 1429.4,340.8 1440.7,345.5 1452.0,349.5 1463.3,352.0 1474.6,354.5 1485.9,357.1 1497.2,359.5 1508.5,362.4 1519.8,365.4 1531.2,366.9 1542.5,368.0 1553.8,368.5 1565.1,367.8 1576.4,366.8 1587.7,367.6 1599.0,367.8 1610.3,366.6 1621.6,364.5 1632.9,363.8 1644.2,363.8 1655.6,365.5 1666.9,373.8 1678.2,387.0 1689.5,397.8" fill="none" stroke="#e80cb0" stroke-width="1.3" stroke-linejoin="round" stroke-linecap="round"/>
<polyline points="-3.0,797.0 2.7,795.4 8.3,793.7 14.0,791.9 19.6,790.1 25.3,788.2 30.9,786.3 36.6,784.4 42.2,782.5 47.9,780.7 53.6,779.0 59.2,777.3 64.9,775.6 70.5,773.9 76.2,772.2 81.8,770.4 87.5,768.5 93.1,766.5 98.8,764.5 104.4,762.4 110.1,760.3 115.8,758.3 121.4,756.4 127.1,754.6 132.7,752.8 138.4,750.8 144.0,748.7 149.7,746.4 155.3,744.1 161.0,741.7 166.7,739.3 172.3,736.7 178.0,734.2 183.6,731.6 189.3,728.9 194.9,726.2 200.6,723.5 206.2,720.8 211.9,717.9 217.5,714.9 223.2,711.9 228.9,709.0 234.5,706.2 240.2,703.4 245.8,700.7 251.5,698.0 257.1,695.3 262.8,692.7 268.4,690.1 274.1,687.5 279.7,684.9 285.4,682.3 291.1,679.7 296.7,677.1 302.4,674.6 308.0,672.2 313.7,669.8 319.3,667.6 325.0,665.5 330.6,663.5 336.3,661.6 342.0,659.8 347.6,658.0 353.3,656.2 358.9,654.4 364.6,652.5 370.2,650.8 375.9,649.0 381.5,647.3 387.2,645.5 392.8,643.7 398.5,641.7 404.2,639.6 409.8,637.4 415.5,635.0 421.1,632.6 426.8,630.1 432.4,627.6 438.1,625.0 443.7,622.4 449.4,619.9 455.1,617.3 460.7,614.8 466.4,612.3 472.0,609.8 477.7,607.3 483.3,604.7 489.0,602.1 494.6,599.5 500.3,596.8 505.9,594.1 511.6,591.2 517.3,588.2 522.9,585.2 528.6,582.2 534.2,579.3 539.9,576.3 545.5,573.5 551.2,570.8 556.8,568.2 562.5,565.7 568.2,563.1 573.8,560.6 579.5,558.1 585.1,555.5 590.8,552.8 596.4,550.0 602.1,547.1 607.7,544.1 613.4,541.0 619.0,537.9 624.7,534.8 630.4,531.8 636.0,528.8 641.7,525.9 647.3,522.9 653.0,519.9 658.6,517.0 664.3,514.1 669.9,511.3 675.6,508.6 681.3,506.0 686.9,503.5 692.6,501.1 698.2,498.8 703.9,496.5 709.5,494.3 715.2,492.1 720.8,490.0 726.5,488.0 732.1,486.1 737.8,484.2 743.5,482.4 749.1,480.7 754.8,479.0 760.4,477.4 766.1,475.8 771.7,474.3 777.4,472.8 783.0,471.3 788.7,469.9 794.4,468.5 800.0,467.0 805.7,465.7 811.3,464.3 817.0,463.0 822.6,461.7 828.3,460.5 833.9,459.2 839.6,458.0 845.2,456.7 850.9,455.2 856.6,452.7 862.2,449.4 867.9,446.4 873.5,443.4 879.2,440.4 884.8,437.3 890.5,434.3 896.1,431.2 901.8,428.1 907.5,425.1 913.1,422.1 918.8,419.4 924.4,416.7 930.1,414.2 935.7,411.6 941.4,409.0 947.0,406.3 952.7,403.8 958.3,401.8 964.0,400.2 969.7,398.7 975.3,397.1 981.0,395.4 986.6,393.7 992.3,391.9 997.9,390.1 1003.6,388.3 1009.2,386.6 1014.9,384.9 1020.6,383.2 1026.2,381.5 1031.9,379.8 1037.5,378.1 1043.2,376.4 1048.8,374.8 1054.5,373.2 1060.1,371.5 1065.8,369.9 1071.4,368.3 1077.1,366.8 1082.8,365.3 1088.4,363.8 1094.1,362.3 1099.7,360.9 1105.4,359.5 1111.0,358.1 1116.7,356.7 1122.3,355.3 1128.0,353.9 1133.7,352.6 1139.3,351.2 1145.0,349.9 1150.6,348.8 1157.9,347.4 1169.2,345.4 1180.5,343.4 1191.8,341.0 1203.2,339.4 1214.5,338.0 1225.8,336.1 1237.1,334.0 1248.4,332.4 1259.7,330.9 1271.0,330.0 1282.3,329.3 1293.6,328.5 1305.0,327.8 1316.3,327.5 1327.6,328.1 1338.9,329.5 1350.2,330.2 1361.5,330.9 1372.8,332.2 1384.1,333.0 1395.4,333.6 1406.7,334.7 1418.0,335.8 1429.4,336.0 1440.7,336.6 1452.0,336.6 1463.3,336.7 1474.6,336.5 1485.9,336.6 1497.2,336.5 1508.5,336.5 1519.8,336.6 1531.2,336.7 1542.5,336.4 1553.8,335.7 1565.1,334.7 1576.4,333.6 1587.7,333.3 1599.0,332.9 1610.3,332.6 1621.6,332.2 1632.9,332.1 1644.2,332.1 1655.6,332.6 1666.9,334.7 1678.2,337.6 1689.5,340.5" fill="none" stroke="#b462ea" stroke-width="1.3" stroke-linejoin="round" stroke-linecap="round"/>
</g>
<line x1="3" y1="678" x2="1796" y2="678" stroke="#0aa874" stroke-width="1.4" stroke-dasharray="5 5"/>
<text x="764.85" y="233.0" fill="#eaecef" font-size="14" font-weight="700" textLength="57.93" lengthAdjust="spacingAndGlyphs" >111980.00</text>
<rect x="826.5" y="228.1" width="14.8" height="1.7" fill="#eaecef"/>
<text x="1611.86" y="800.1" fill="#eaecef" font-size="14" font-weight="700" textLength="58.67" lengthAdjust="spacingAndGlyphs" >107316.00</text>
<rect x="1674.2" y="794.8" width="15.6" height="1.7" fill="#eaecef"/>
<g id="axis">
<text x="1806.12" y="110.5" fill="#b4b7c2" font-size="15.5" stroke="#b4b7c2" stroke-width="0.15" textLength="67.03" lengthAdjust="spacingAndGlyphs" >113000.00</text>
<text x="1806.12" y="171.0" fill="#b4b7c2" font-size="15.5" stroke="#b4b7c2" stroke-width="0.15" textLength="67.03" lengthAdjust="spacingAndGlyphs" >112500.00</text>
<text x="1806.12" y="231.6" fill="#b4b7c2" font-size="15.5" stroke="#b4b7c2" stroke-width="0.15" textLength="67.03" lengthAdjust="spacingAndGlyphs" >112000.00</text>
<text x="1806.10" y="292.2" fill="#b4b7c2" font-size="15.5" stroke="#b4b7c2" stroke-width="0.15" textLength="66.99" lengthAdjust="spacingAndGlyphs" >111500.00</text>
<text x="1806.10" y="352.8" fill="#b4b7c2" font-size="15.5" stroke="#b4b7c2" stroke-width="0.15" textLength="66.99" lengthAdjust="spacingAndGlyphs" >111000.00</text>
<text x="1806.12" y="413.3" fill="#b4b7c2" font-size="15.5" stroke="#b4b7c2" stroke-width="0.15" textLength="67.03" lengthAdjust="spacingAndGlyphs" >110500.00</text>
<text x="1806.12" y="473.9" fill="#b4b7c2" font-size="15.5" stroke="#b4b7c2" stroke-width="0.15" textLength="67.03" lengthAdjust="spacingAndGlyphs" >110000.00</text>
<text x="1806.14" y="534.5" fill="#b4b7c2" font-size="15.5" stroke="#b4b7c2" stroke-width="0.15" textLength="66.99" lengthAdjust="spacingAndGlyphs" >109500.00</text>
<text x="1806.14" y="595.1" fill="#b4b7c2" font-size="15.5" stroke="#b4b7c2" stroke-width="0.15" textLength="66.99" lengthAdjust="spacingAndGlyphs" >109000.00</text>
<text x="1806.14" y="655.6" fill="#b4b7c2" font-size="15.5" stroke="#b4b7c2" stroke-width="0.15" textLength="66.99" lengthAdjust="spacingAndGlyphs" >108500.00</text>
<text x="1806.14" y="716.2" fill="#b4b7c2" font-size="15.5" stroke="#b4b7c2" stroke-width="0.15" textLength="66.99" lengthAdjust="spacingAndGlyphs" >108000.00</text>
<text x="1806.14" y="776.8" fill="#b4b7c2" font-size="15.5" stroke="#b4b7c2" stroke-width="0.15" textLength="66.99" lengthAdjust="spacingAndGlyphs" >107500.00</text>
</g>
<rect x="1797" y="653.2" width="88.2" height="48.9" rx="5" fill="#00c582"/>
<text x="1807.74" y="672.8" fill="#ffffff" font-size="15" stroke="#ffffff" stroke-width="0.3" textLength="66.72" lengthAdjust="spacingAndGlyphs" >108283.09</text>
<text x="1807.73" y="694.2" fill="#ffffff" font-size="15" stroke="#ffffff" stroke-width="0.3" textLength="35.61" lengthAdjust="spacingAndGlyphs" >10:22</text>
<g id="info" font-size="15">
<text x="11.27" y="83.9" fill="#858aa3" font-size="15.5" stroke="#858aa3" stroke-width="0.15" textLength="113.82" lengthAdjust="spacingAndGlyphs" >2025/05/23 19:15</text>
<text x="135.07" y="83.9" fill="#858aa3" font-size="15.5" stroke="#858aa3" stroke-width="0.15" textLength="41.36" lengthAdjust="spacingAndGlyphs" >Open:</text>
<text x="185.94" y="83.9" fill="#00c582" font-size="15.5" stroke="#00c582" stroke-width="0.15" textLength="66.65" lengthAdjust="spacingAndGlyphs" >108127.98</text>
<text x="261.98" y="83.9" fill="#858aa3" font-size="15.5" stroke="#858aa3" stroke-width="0.15" textLength="37.02" lengthAdjust="spacingAndGlyphs" >High:</text>
<text x="308.19" y="83.9" fill="#00c582" font-size="15.5" stroke="#00c582" stroke-width="0.15" textLength="66.84" lengthAdjust="spacingAndGlyphs" >108368.00</text>
<text x="384.51" y="83.9" fill="#858aa3" font-size="15.5" stroke="#858aa3" stroke-width="0.15" textLength="32.67" lengthAdjust="spacingAndGlyphs" >Low:</text>
<text x="426.95" y="83.9" fill="#00c582" font-size="15.5" stroke="#00c582" stroke-width="0.15" textLength="66.07" lengthAdjust="spacingAndGlyphs" >107316.00</text>
<text x="503.00" y="83.9" fill="#858aa3" font-size="15.5" stroke="#858aa3" stroke-width="0.15" textLength="42.68" lengthAdjust="spacingAndGlyphs" >Close:</text>
<text x="555.19" y="83.9" fill="#00c582" font-size="15.5" stroke="#00c582" stroke-width="0.15" textLength="66.72" lengthAdjust="spacingAndGlyphs" >108283.09</text>
<text x="631.79" y="83.9" fill="#858aa3" font-size="15.5" stroke="#858aa3" stroke-width="0.15" textLength="64.50" lengthAdjust="spacingAndGlyphs" >CHANGE:</text>
<text x="705.70" y="83.9" fill="#00c582" font-size="15.5" stroke="#00c582" stroke-width="0.15" textLength="39.30" lengthAdjust="spacingAndGlyphs" >0.14%</text>
<text x="755.75" y="83.9" fill="#858aa3" font-size="15.5" stroke="#858aa3" stroke-width="0.15" textLength="86.82" lengthAdjust="spacingAndGlyphs" >AMPLITUDE:</text>
<text x="851.44" y="83.9" fill="#00c582" font-size="15.5" stroke="#00c582" stroke-width="0.15" textLength="39.55" lengthAdjust="spacingAndGlyphs" >0.97%</text>
<text x="10.77" y="115.3" fill="#858aa3" font-size="15.5" stroke="#858aa3" stroke-width="0.15" textLength="46.20" lengthAdjust="spacingAndGlyphs" >MA(7):</text>
<text x="65.69" y="115.3" fill="#f0c30a" font-size="15.5" stroke="#f0c30a" stroke-width="0.15" textLength="66.80" lengthAdjust="spacingAndGlyphs" >109827.77</text>
<text x="141.80" y="115.3" fill="#858aa3" font-size="15.5" stroke="#858aa3" stroke-width="0.15" textLength="53.32" lengthAdjust="spacingAndGlyphs" >MA(25):</text>
<text x="204.43" y="115.3" fill="#e80cb0" font-size="15.5" stroke="#e80cb0" stroke-width="0.15" textLength="66.25" lengthAdjust="spacingAndGlyphs" >110595.71</text>
<text x="280.79" y="115.3" fill="#858aa3" font-size="15.5" stroke="#858aa3" stroke-width="0.15" textLength="53.58" lengthAdjust="spacingAndGlyphs" >MA(99):</text>
<text x="343.92" y="115.3" fill="#b462ea" font-size="15.5" stroke="#b462ea" stroke-width="0.15" textLength="65.96" lengthAdjust="spacingAndGlyphs" >111070.01</text>
<polyline points="-3,79.4 0,81.60000000000001 3,77.9" fill="none" stroke="#858aa3" stroke-width="1.7"/>
<polyline points="-3,110.9 0,113.10000000000001 3,109.4" fill="none" stroke="#858aa3" stroke-width="1.7"/>
</g>
<g id="header">
<rect x="0" y="10" width="1890" height="1" fill="#2b2e3a" shape-rendering="crispEdges"/>
<rect x="0" y="60" width="1890" height="1" fill="#2b2e3a" shape-rendering="crispEdges"/>
<rect x="5" y="7" width="20" height="3" fill="#f0dc14"/>
<rect x="-10" y="20.5" width="32.5" height="29" rx="6" fill="none" stroke="#2e313d" stroke-width="1.1"/>
<polygon points="8.10,28.40 10.04,32.73 14.76,33.24 11.24,36.42 12.21,41.06 8.10,38.70 3.99,41.06 4.96,36.42 1.44,33.24 6.16,32.73" fill="#676b83" stroke="#676b83" stroke-width="1.4" stroke-linejoin="round"/>
<text x="52.56" y="30.6" fill="#eaecef" font-size="24.6" font-weight="700" textLength="119.78" lengthAdjust="spacingAndGlyphs" >BTC/USDT</text>
<path d="M183.2 22.6 h7.6 q0.9 0 0.3 0.8 l-3.5 4 q-0.6 0.6 -1.2 0 l-3.5 -4 q-0.6 -0.8 0.3 -0.8z" fill="#eaecef"/>
<text x="52.98" y="53.75" fill="#858aa3" font-size="15.4" stroke="#858aa3" stroke-width="0.2" textLength="84.65" lengthAdjust="spacingAndGlyphs" >Bitcoin Price</text>
<path d="M142 52 L147.6 46.5 M143.4 46.5 H147.6 V50.7" fill="none" stroke="#858aa3" stroke-width="1.1"/>
<g font-size="15">
<text x="239.09" y="38.8" fill="#858aa3" font-size="15" stroke="#858aa3" stroke-width="0.5" textLength="33.40" lengthAdjust="spacingAndGlyphs" >Time</text>
<text x="285.37" y="38.8" fill="#858aa3" font-size="15" stroke="#858aa3" stroke-width="0.5" textLength="21.73" lengthAdjust="spacingAndGlyphs" >5m</text>
<text x="319.74" y="38.8" fill="#eaecef" font-size="15" font-weight="700" textLength="28.85" lengthAdjust="spacingAndGlyphs" >15m</text>
<text x="361.32" y="38.8" fill="#858aa3" font-size="15" stroke="#858aa3" stroke-width="0.5" textLength="18.38" lengthAdjust="spacingAndGlyphs" >1H</text>
<text x="392.68" y="38.8" fill="#858aa3" font-size="15" stroke="#858aa3" stroke-width="0.5" textLength="17.38" lengthAdjust="spacingAndGlyphs" >1D</text>
<text x="423.25" y="38.8" fill="#858aa3" font-size="15" stroke="#858aa3" stroke-width="0.5" textLength="21.02" lengthAdjust="spacingAndGlyphs" >1W</text>
<text x="1649.33" y="38.9" fill="#eaecef" font-size="15" font-weight="700" textLength="54.15" lengthAdjust="spacingAndGlyphs" >Original</text>
<text x="1723.20" y="38.9" fill="#858aa3" font-size="15" stroke="#858aa3" stroke-width="0.5" textLength="87.64" lengthAdjust="spacingAndGlyphs" >Trading View</text>
<text x="1831.24" y="38.9" fill="#858aa3" font-size="15" stroke="#858aa3" stroke-width="0.5" textLength="41.93" lengthAdjust="spacingAndGlyphs" >Depth</text>
</g>
<path d="M467 32.2 h7.9 q0.8 0 0.3 0.7 l-3.7 4.6 q-0.5 0.6 -1.1 0 l-3.7 -4.6 q-0.5 -0.7 0.3 -0.7z" fill="#888da6"/>
<g fill="#888da6">
<rect x="506.9" y="27.2" width="2.2" height="2.5"/><rect x="512.9" y="27.2" width="2.3" height="2.5"/>
<rect x="503.9" y="29" width="14.1" height="2.9"/>
<path d="M503.9 33.1 H518 V42 H503.9 Z M506.9 37.45 L509.6 35.4 V36.85 H514.9 V38.05 H509.6 V39.5 Z" fill-rule="evenodd"/>
</g>
<path d="M544 28 H547.1 V38.9 H558 V41.9 H544 Z" fill="#888da6"/>
<path d="M547.2 35.2 L549.7 31.1 L552.3 33.9 L556.8 29.2" fill="none" stroke="#888da6" stroke-width="1.4"/>
<path d="M552.4 35.6 L554.4 37.9 H550.5 Z" fill="#888da6"/>
<g fill="#888da6">
<rect x="582.8" y="34.1" width="7.2" height="4.8"/><rect x="585.1" y="30.7" width="2.7" height="12.1"/>
<rect x="592" y="30.9" width="7.2" height="8"/><rect x="594.1" y="27.4" width="3" height="15.4"/>
</g>
<g fill="#888da6">
<rect x="623.2" y="28" width="15.8" height="2.9"/><rect x="623.2" y="33.8" width="4.7" height="2.3"/><rect x="623.2" y="39.1" width="4.7" height="2.8"/>
<path d="M633.85,32.50 L638.44,35.15 L638.44,40.45 L633.85,43.10 L629.26,40.45 L629.26,35.15 Z M635.65 37.8 a1.8 1.8 0 1 0 -3.6 0 a1.8 1.8 0 1 0 3.6 0z" fill-rule="evenodd" stroke="#888da6" stroke-width="0.5" stroke-linejoin="round"/>
</g>
<path d="M676.68 33.45 L678.35 33.54 L678.35 36.56 L676.68 36.65 L676.12 38.01 L677.23 39.25 L675.10 41.38 L673.86 40.27 L672.50 40.83 L672.41 42.50 L669.39 42.50 L669.30 40.83 L667.94 40.27 L666.70 41.38 L664.57 39.25 L665.68 38.01 L665.12 36.65 L663.45 36.56 L663.45 33.54 L665.12 33.45 L665.68 32.09 L664.57 30.85 L666.70 28.72 L667.94 29.83 L669.30 29.27 L669.39 27.60 L672.41 27.60 L672.50 29.27 L673.86 29.83 L675.10 28.72 L677.23 30.85 L676.12 32.09 Z M673.10 35.05 a2.2 2.2 0 1 0 -4.4 0 a2.2 2.2 0 1 0 4.4 0z" fill="#888da6" fill-rule="evenodd" stroke="#888da6" stroke-width="0.8" stroke-linejoin="round"/>
</g>
</svg>
</body></html>
